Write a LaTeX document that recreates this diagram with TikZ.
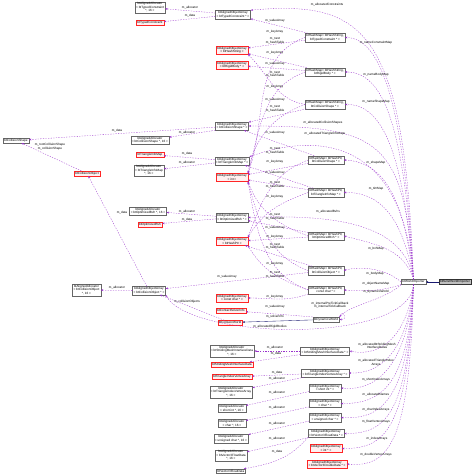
\documentclass[tikz,border=0pt]{standalone}
\usepackage{fontspec}
\setmainfont{Liberation Sans}
\usepackage{xcolor}
\usepackage{tikz}
\usetikzlibrary{arrows.meta}

\begin{document}
\begin{tikzpicture}
    [%%%%%%%%%%%%%%%%%%%%%%%%%%%%%%
        x=1pt, y=-1pt,
        cls/.style={rectangle,draw=black!60,line width=0.25pt,fill=white,align=center,
            inner xsep=1.2pt,inner ysep=1pt,font=\fontsize{3.1}{3.5}\selectfont},
        trunc/.style={cls,draw=red!85,fill=trfill},
        mainbox/.style={cls,draw=black!80,fill=black!25},
        lbl/.style={inner sep=0pt,align=center,font=\fontsize{3.1}{3.5}\selectfont},
        usage/.style={draw=usecol,line width=0.3pt,dash pattern=on 1.3pt off 1.3pt,
            -{Stealth[length=2.4pt,width=1.8pt]}},
        inherit/.style={draw=inhcol,line width=0.35pt,-{Stealth[length=2.4pt,width=1.8pt]}}
    ]%%%%%%%%%%%%%%%%%%%%%%%%%%%%%%
\definecolor{usecol}{HTML}{9A32CD}
\definecolor{inhcol}{HTML}{191970}
\definecolor{trfill}{HTML}{FFF0F0}
\useasboundingbox (0,0) rectangle (474,476);
\fill[white] (0,0) rectangle (474,476);

% classes
\node[cls] (allocTC) at (150,7.5) {btAlignedAllocator\\< btTypedConstraint\\ *, 16 >};
\node[trunc] (typedConstraint) at (150,23) {btTypedConstraint};
\node[cls] (arrTC) at (233,14.5) {btAlignedObjectArray\\< btTypedConstraint * >};
\node[trunc] (arrHashString) at (232,50) {btAlignedObjectArray\\< btHashString >};
\node[trunc] (arrRigidBody) at (232,65) {btAlignedObjectArray\\< btRigidBody * >};
\node[cls] (mapNameTC) at (325,37.5) {btHashMap< btHashString,\\ btTypedConstraint * >};
\node[cls] (mapNameRB) at (325,72) {btHashMap< btHashString,\\ btRigidBody * >};
\node[cls] (mapNameCS) at (325,104.5) {btHashMap< btHashString,\\ btCollisionShape * >};
\node[cls] (collisionShape) at (16,140.5) {btCollisionShape};
\node[trunc] (collisionObject) at (87,173.5) {btCollisionObject};
\node[cls] (allocCS) at (150,140) {btAlignedAllocator\\< btCollisionShape *, 16 >};
\node[trunc] (triInfoMap) at (150,154.5) {btTriangleInfoMap};
\node[cls] (allocTIM) at (149,170.5) {btAlignedAllocator\\< btTriangleInfoMap\\ *, 16 >};
\node[cls] (arrCS) at (232,126) {btAlignedObjectArray\\< btCollisionShape * >};
\node[cls] (arrTIM) at (232,161) {btAlignedObjectArray\\< btTriangleInfoMap * >};
\node[trunc] (arrInt) at (232,177.5) {btAlignedObjectArray\\< int >};
\node[cls] (allocOB) at (148,211) {btAlignedAllocator\\< btOptimizedBvh *, 16 >};
\node[trunc] (optBvh) at (150,224.5) {btOptimizedBvh};
\node[cls] (arrOB) at (232,217.5) {btAlignedObjectArray\\< btOptimizedBvh * >};
\node[trunc] (arrHashPtr) at (232,241.5) {btAlignedObjectArray\\< btHashPtr >};
\node[cls] (mapShape) at (326,160) {btHashMap< btHashPtr,\\ btCollisionShape * >};
\node[cls] (mapTim) at (326,192.5) {btHashMap< btHashPtr,\\ btTriangleInfoMap * >};
\node[cls] (mapBvh) at (326,236) {btHashMap< btHashPtr,\\ btOptimizedBvh * >};
\node[cls] (mapBody) at (326,270.5) {btHashMap< btHashPtr,\\ btCollisionObject * >};
\node[cls] (mapObjName) at (326,290) {btHashMap< btHashPtr,\\ const char * >};
\node[cls] (dynWorld) at (326,319.5) {btDynamicsWorld};
\node[cls] (importer) at (413.5,282) {btWorldImporter};
\node[mainbox] (bulletImporter) at (455,282) {btBulletWorldImporter};
\node[cls] (allocCO) at (86.5,290) {btAlignedAllocator\\< btCollisionObject\\ *, 16 >};
\node[cls] (arrCO) at (149,290.5) {btAlignedObjectArray\\< btCollisionObject * >};
\node[trunc] (arrConstChar) at (232,298) {btAlignedObjectArray\\< const char * >};
\node[trunc] (solverInfo) at (231,310.5) {btContactSolverInfo};
\node[trunc] (collWorld) at (230,322.5) {btCollisionWorld};
\node[cls] (allocSMID) at (232,351) {btAlignedAllocator\\< btStridingMeshInterfaceData\\ *, 16 >};
\node[cls] (arrSMID) at (325,351) {btAlignedObjectArray\\< btStridingMeshInterfaceData * >};
\node[trunc] (smid) at (232,364.5) {btStridingMeshInterfaceData};
\node[trunc] (tiva) at (232,377) {btTriangleIndexVertexArray};
\node[cls] (arrTIVA) at (325,373) {btAlignedObjectArray\\< btTriangleIndexVertexArray * >};
\node[cls] (allocTIVA) at (231,392) {btAlignedAllocator\\< btTriangleIndexVertexArray\\ *, 16 >};
\node[cls] (arrShort) at (325,388) {btAlignedObjectArray\\< short int * >};
\node[cls] (allocShort) at (232,408.5) {btAlignedAllocator\\< short int *, 16 >};
\node[cls] (arrChar) at (325,403.5) {btAlignedObjectArray\\< char * >};
\node[cls] (allocChar) at (232,423.5) {btAlignedAllocator\\< char *, 16 >};
\node[cls] (arrUChar) at (325,417.5) {btAlignedObjectArray\\< unsigned char * >};
\node[cls] (allocUChar) at (231,438.5) {btAlignedAllocator\\< unsigned char *, 16 >};
\node[cls] (arrFloat) at (326,433.5) {btAlignedObjectArray\\< btVector3FloatData * >};
\node[cls] (allocFloat) at (231,455.5) {btAlignedAllocator\\< btVector3FloatData\\ *, 16 >};
\node[cls] (floatData) at (231,471) {btVector3FloatData};
\node[trunc] (arrIntPtr) at (326,448.5) {btAlignedObjectArray\\< int * >};
\node[trunc] (arrDouble) at (327,464) {btAlignedObjectArray\\< btVector3DoubleData * >};

% hash maps
\draw[usage] (mapNameTC) -- (arrTC.south east);
\draw[usage] (mapNameTC) -- (arrHashString);
\draw[usage] (mapNameTC.west) to[out=200,in=70] (arrInt.north east);
\draw[usage] (mapNameRB) -- (arrHashString);
\draw[usage] (mapNameRB) -- (arrRigidBody);
\draw[usage] (mapNameRB.west) to[out=200,in=75] (arrInt.north east);
\draw[usage] (mapNameCS.west) to[out=170,in=-45] (arrHashString.south east);
\draw[usage] (mapNameCS) -- (arrCS);
\draw[usage] (mapNameCS.west) to[out=200,in=80] (arrInt.north east);
\draw[usage] (mapShape) -- (arrCS);
\draw[usage] (mapShape) -- (arrInt);
\draw[usage] (mapShape.west) to[out=200,in=70] (arrHashPtr.north east);
\draw[usage] (mapTim) -- (arrTIM);
\draw[usage] (mapTim) -- (arrInt);
\draw[usage] (mapTim.west) to[out=200,in=60] (arrHashPtr.north east);
\draw[usage] (mapBvh.west) to[out=160,in=-70] (arrInt.south east);
\draw[usage] (mapBvh) -- (arrOB);
\draw[usage] (mapBvh) -- (arrHashPtr);
\draw[usage] (mapBody.west) to[out=160,in=-75] (arrInt.south east);
\draw[usage] (mapBody) -- (arrHashPtr);
\draw[usage] (mapBody) -- (arrCO);
\draw[usage] (mapObjName.west) to[out=160,in=-80] (arrInt.south east);
\draw[usage] (mapObjName.west) to[out=160,in=-60] (arrHashPtr.south east);
\draw[usage] (mapObjName.south west) to[out=200,in=0] (arrConstChar);

% arrays
\draw[usage] (arrTC) -- (allocTC);
\draw[usage] (arrTC) -- (typedConstraint);
\draw[usage] (arrCS.south west) -- (allocCS);
\draw[usage] (arrCS) -- (collisionShape);
\draw[usage] (arrTIM) -- (triInfoMap);
\draw[usage] (arrTIM) -- (allocTIM);
\draw[usage] (arrOB) -- (allocOB);
\draw[usage] (arrOB) -- (optBvh);
\draw[usage] (collisionObject) -- (collisionShape);
\draw[usage] (arrCO) -- (collisionObject);
\draw[usage] (arrCO) -- (allocCO);
\draw[usage] (collWorld) -- (arrCO);
\draw[usage] (dynWorld.north west) -- (solverInfo);
\draw[inherit] (dynWorld) -- (collWorld);
\draw[usage] (dynWorld.north east) to[out=70,in=0,looseness=10] (dynWorld.east);
\draw[usage] (arrSMID) -- (allocSMID);
\draw[usage] (arrSMID) -- (smid);
\draw[usage] (arrTIVA) -- (tiva);
\draw[usage] (arrTIVA) -- (allocTIVA);
\draw[usage] (arrShort) -- (allocShort);
\draw[usage] (arrChar) -- (allocChar);
\draw[usage] (arrUChar) -- (allocUChar);
\draw[usage] (arrFloat) -- (allocFloat);
\draw[usage] (arrFloat.south west) to[out=230,in=10] (floatData);

% importer members
\draw[inherit] (bulletImporter) -- (importer);
\draw[usage] (importer.north) .. controls (404,30) and (365,0) .. (arrTC.north east);
\draw[usage] (importer.north) .. controls (404,100) and (380,38) .. (mapNameTC.east);
\draw[usage] (importer.north) .. controls (404,130) and (385,72) .. (mapNameRB.east);
\draw[usage] (importer.north) .. controls (404,160) and (385,104) .. (mapNameCS.east);
\draw[usage] (importer.north) .. controls (404,140) and (380,126) .. (arrCS.east);
\draw[usage] (importer.north) .. controls (404,150) and (330,128) .. (arrTIM.north east);
\draw[usage] (importer.north) .. controls (404,200) and (385,162) .. (mapShape.east);
\draw[usage] (importer.north) .. controls (404,225) and (385,192) .. (mapTim.east);
\draw[usage] (importer.north) .. controls (404,225) and (340,214) .. (arrOB.east);
\draw[usage] (importer.north) .. controls (404,250) and (380,245) .. (mapBvh.east);
\draw[usage] (importer.west) .. controls (385,268) and (360,266) .. (mapBody.east);
\draw[usage] (importer.south west) .. controls (380,292) and (360,291) .. (mapObjName.east);
\draw[usage] (importer.south west) .. controls (385,300) and (350,305) .. (dynWorld.north east);
\draw[usage] (importer.south) .. controls (410,345) and (190,340) .. (arrCO.south east);
\draw[usage] (importer.south) .. controls (408,330) and (385,358) .. (arrSMID.east);
\draw[usage] (importer.south) .. controls (408,345) and (385,374) .. (arrTIVA.east);
\draw[usage] (importer.south) .. controls (408,360) and (380,392) .. (arrShort.east);
\draw[usage] (importer.south) .. controls (408,380) and (385,404) .. (arrChar.east);
\draw[usage] (importer.south) .. controls (408,395) and (385,420) .. (arrUChar.east);
\draw[usage] (importer.south) .. controls (408,410) and (388,434) .. (arrFloat.east);
\draw[usage] (importer.south) .. controls (408,425) and (388,449) .. (arrIntPtr.east);
\draw[usage] (importer.south) .. controls (410,440) and (390,468) .. (arrDouble.east);

% labels
\node[lbl] (t1) at (190,8) {m\_allocator};
\node[lbl] (t2) at (190,16) {m\_data};
\node[lbl] (t3) at (275,21) {m\_valueArray};
\node[lbl] (t4) at (275,32) {m\_keyArray};
\node[lbl] (t5) at (275,41) {m\_next\\m\_hashTable};
\node[lbl] (t6) at (275,53) {m\_keyArray};
\node[lbl] (t7) at (275,64) {m\_valueArray};
\node[lbl] (t8) at (275,74.5) {m\_next\\m\_hashTable};
\node[lbl] (t9) at (275,87) {m\_keyArray};
\node[lbl] (t10) at (275,100) {m\_valueArray};
\node[lbl] (t11) at (275,109) {m\_next\\m\_hashTable};
\node[lbl] (t12) at (327,5) {m\_allocatedConstraints};
\node[lbl] (t13) at (376,43) {m\_nameConstraintMap};
\node[lbl] (t14) at (376,75) {m\_nameBodyMap};
\node[lbl] (t15) at (376,102) {m\_nameShapeMap};
\node[lbl] (t16) at (323,123) {m\_allocatedCollisionShapes};
\node[lbl] (t17) at (325,134) {m\_allocatedTriangleInfoMaps};
\node[lbl] (t18) at (117,131) {m\_data};
\node[lbl] (t19) at (50,146.5) {m\_rootCollisionShape\\m\_collisionShape};
\node[lbl] (t20) at (187,133) {m\_allocator};
\node[lbl] (t21) at (187,154) {m\_data};
\node[lbl] (t22) at (187,163) {m\_allocator};
\node[lbl] (t23) at (275,133) {m\_valueArray};
\node[lbl] (t24) at (275,151) {m\_next\\m\_hashTable};
\node[lbl] (t25) at (275,162) {m\_keyArray};
\node[lbl] (t26) at (275,173) {m\_valueArray};
\node[lbl] (t27) at (275,185) {m\_next\\m\_hashTable};
\node[lbl] (t28) at (275,197) {m\_keyArray};
\node[lbl] (t29) at (376,163) {m\_shapeMap};
\node[lbl] (t30) at (376,189) {m\_timMap};
\node[lbl] (t31) at (187,212) {m\_allocator};
\node[lbl] (t32) at (187,220) {m\_data};
\node[lbl] (t33) at (328,212) {m\_allocatedBvhs};
\node[lbl] (t34) at (275,217) {m\_next\\m\_hashTable};
\node[lbl] (t35) at (275,228) {m\_valueArray};
\node[lbl] (t36) at (275,237) {m\_keyArray};
\node[lbl] (t37) at (376,249) {m\_bvhMap};
\node[lbl] (t38) at (275,246.5) {m\_next\\m\_hashTable};
\node[lbl] (t39) at (275,264) {m\_keyArray};
\node[lbl] (t40) at (275,275) {m\_next\\m\_hashTable};
\node[lbl] (t41) at (227,277) {m\_valueArray};
\node[lbl] (t42) at (375,274) {m\_bodyMap};
\node[lbl] (t43) at (376,284) {m\_objectNameMap};
\node[lbl] (t44) at (376,292) {m\_dynamicsWorld};
\node[lbl] (t45) at (122,213) {m\_data};
\node[lbl] (t46) at (117,288) {m\_allocator};
\node[lbl] (t47) at (275,297) {m\_keyArray};
\node[lbl] (t48) at (275,307) {m\_valueArray};
\node[lbl] (t49) at (275,317) {m\_solverInfo};
\node[lbl] (t50) at (187,302) {m\_collisionObjects};
\node[lbl] (t51) at (330,305) {m\_internalPreTickCallback\\m\_internalTickCallback};
\node[lbl] (t52) at (270,327) {m\_allocatedRigidBodies};
\node[lbl] (t53) at (275,348) {m\_allocator};
\node[lbl] (t54) at (276,354) {m\_data};
\node[lbl] (t55) at (377,346) {m\_allocatedbtStridingMesh\\InterfaceDatas};
\node[lbl] (t56) at (277,373) {m\_data};
\node[lbl] (t57) at (277,379) {m\_allocator};
\node[lbl] (t58) at (376,362.5) {m\_allocatedTriangleIndex\\Arrays};
\node[lbl] (t59) at (376,380) {m\_shortIndexArrays};
\node[lbl] (t60) at (277,393) {m\_allocator};
\node[lbl] (t61) at (376,395) {m\_allocatedNames};
\node[lbl] (t62) at (277,408) {m\_allocator};
\node[lbl] (t63) at (376,410) {m\_charIndexArrays};
\node[lbl] (t64) at (277,424) {m\_allocator};
\node[lbl] (t65) at (376,422) {m\_floatVertexArrays};
\node[lbl] (t66) at (277,439) {m\_allocator};
\node[lbl] (t67) at (377,439) {m\_indexArrays};
\node[lbl] (t68) at (277,452) {m\_data};
\node[lbl] (t69) at (376,455) {m\_doubleVertexArrays};

\end{tikzpicture}
\end{document}
